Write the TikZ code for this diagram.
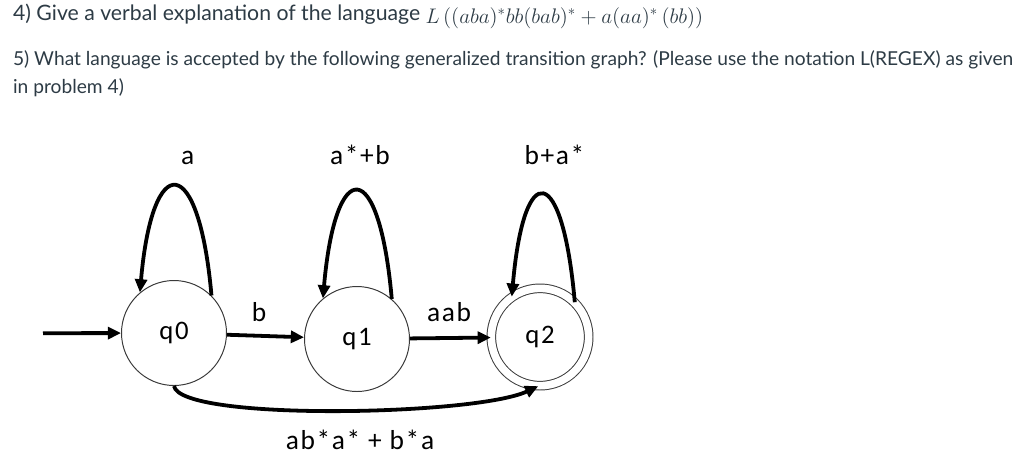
\documentclass[tikz,border=0pt]{standalone}
\usepackage{fix-cm}
\usepackage{fontspec}
\setmainfont{Lato}
\newfontfamily\graphfont[LetterSpace=6]{Carlito}
\usetikzlibrary{arrows.meta}
\definecolor{tg_text}{HTML}{2D3B45}
\definecolor{tg_ring}{HTML}{3A3A3A}
\definecolor{tg_line}{HTML}{000000}

\begin{document}
\begin{tikzpicture}[
        state/.style={circle, draw=tg_ring, line width=0.7pt, minimum size=2.625cm, inner sep=0pt,
            font=\graphfont\fontsize{19}{22}\selectfont},
        accepting/.style={double, double distance=0.19cm, minimum size=2.435cm},
        move/.style={draw=tg_line, line width=2.7pt, -{Triangle[length=0.33cm, width=0.3cm]}},
        tlabel/.style={anchor=base, inner sep=0pt, font=\graphfont\fontsize{19.5}{22}\selectfont},
        question/.style={anchor=base west, inner sep=0pt, text=tg_text, font=\fontsize{13.65}{16}\selectfont}
    ]
            \useasboundingbox (0, 0) rectangle (25.6, -11.8);

            \node[question, font=\fontsize{15.1}{18}\selectfont] (p4) at (0.32, -0.52)
                {4) Give a verbal explanation of the language {\fontsize{15}{18}\selectfont\raisebox{-2pt}{$L\left((aba)^{*}bb(bab)^{*}+a(aa)^{*}\,(bb)\right)$}}};
            \node[question] (p5a) at (0.32, -1.625) {5) What language is accepted by the following generalized transition graph? (Please use the notation L(REGEX) as given};
            \node[question] (p5b) at (0.32, -2.325) {in problem 4)};

            \node[state] (q0) at (4.35, -8.325) {q0};
            \node[state] (q1) at (8.925, -8.475) {q1};
            \node[state, accepting] (q2) at (13.5, -8.425) {q2};
            \coordinate (start) at (1.075, -8.33);

            \draw[move] (start) -- (q0);
            \draw[move] (q0) -- (q1);
            \draw[move] (q1) -- (q2);
            \draw[move] (q0.45) to[out=95, in=85, distance=3.6cm] (q0.130);
            \draw[move] (q1.49) to[out=95, in=85, distance=3.6cm] (q1.130);
            \draw[move] (q2.45) to[out=95, in=85, distance=3.5cm] (q2.125);
            \draw[move] (q0.south) to[out=-80, in=205, out distance=0.9cm, in distance=1.75cm] (q2.-92);

            \node[tlabel] (lq0) at (4.69, -4.1) {a};
            \node[tlabel] (lq1) at (9.0, -4.1) {a*+b};
            \node[tlabel] (lq2) at (13.86, -4.1) {b+a*};
            \node[tlabel] (l01) at (6.475, -8.04) {b};
            \node[tlabel] (l12) at (11.225, -8.04) {aab};
            \node[tlabel] (l02) at (9.0, -11.225) {ab*a* + b*a};

\end{tikzpicture}
\end{document}
